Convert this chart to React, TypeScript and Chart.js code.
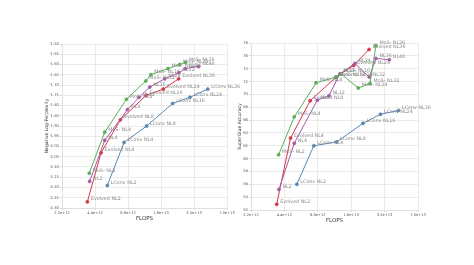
import React, { useEffect, useRef } from "react";
import { Chart, registerables } from "chart.js";
Chart.register(...registerables);

// ---- shared axis ticks ----
const xTickValues = [2.2e12, 4.4e12, 8.8e12, 1.76e13, 3.52e13, 7.04e13];

// ---- MoS series ----
const mosLabels = ["MoS- NL2", "MoS- NL4", "MoS- NL8", "MoS- NL12", "MoS- NL16", "MoS- NL24", "MoS- NL32", "MoS- NL36"];
const mosFlops = [3.9e12, 5.4e12, 8.5e12, 1.28e13, 1.42e13, 2.04e13, 2.6e13, 2.94e13];
const mosPpl = [-2.13, -1.93, -1.77, -1.68, -1.65, -1.62, -1.6, -1.59];
const mosAcc = [60.6, 66.5, 71.8, 72.7, 73.2, 71.0, 71.7, 77.6];

// ---- Evolved series ----
const evoLabels = ["Evolved NL2", "Evolved NL4", "Evolved NL8", "Evolved NL16", "Evolved NL24", "Evolved NL36"];
const evoFlops = [3.75e12, 5.0e12, 7.5e12, 1.29e13, 1.85e13, 2.55e13];
const evoPpl = [-2.27, -2.03, -1.87, -1.75, -1.72, -1.67];
const evoAcc = [52.9, 63.2, 69.0, 72.7, 74.5, 77.0];

// ---- vanilla NL series ----
const nlLabels = ["NL2", "NL4", "NL8", "NL12", "NL16", "NL24", "NL32", "NL36", "NL48"];
const nlFlops = [3.93e12, 5.4e12, 8.7e12, 1.11e13, 1.39e13, 1.9e13, 2.56e13, 2.94e13, 3.88e13];
const nlPpl = [-2.17, -1.97, -1.82, -1.76, -1.71, -1.67, -1.64, -1.62, -1.61];
const nlAcc = [55.2, 62.4, 69.1, 69.8, 73.2, 74.8, 72.7, 75.6, 75.4];

// ---- LConv series ----
const lconvLabels = ["LConv NL2", "LConv NL4", "LConv NL8", "LConv NL16", "LConv NL24", "LConv NL36"];
const lconvFlops = [5.7e12, 8.1e12, 1.3e13, 2.25e13, 3.23e13, 4.7e13];
const lconvPpl = [-2.19, -1.98, -1.9, -1.79, -1.76, -1.72];
const lconvAcc = [56.0, 62.0, 62.6, 65.5, 66.9, 67.5];

const FONT = "'DejaVu Sans', sans-serif";
const COLORS = { mos: "#5aae5a", evo: "#d8344a", nl: "#a45ba4", lconv: "#5b86b3" };

function ds(labels: string[], xs: number[], ys: number[], color: string) {
  return {
    data: xs.map((x, i) => ({ x, y: ys[i] })),
    pointLabels: labels,
    borderColor: color,
    backgroundColor: color,
    pointBackgroundColor: color,
    pointBorderColor: color,
    borderWidth: 1,
    pointRadius: 1.5,
    pointBorderWidth: 0.8,
    tension: 0,
  } as any;
}

const labelPlugin = {
  id: "pointLabels",
  afterDatasetsDraw(chart: any) {
    const ctx = chart.ctx;
    ctx.save();
    ctx.font = `4.8px ${FONT}`;
    ctx.fillStyle = "#8a8a8a";
    ctx.textBaseline = "alphabetic";
    ctx.textAlign = "left";
    chart.data.datasets.forEach((d: any, di: number) => {
      const meta = chart.getDatasetMeta(di);
      meta.data.forEach((pt: any, i: number) => {
        ctx.fillText(d.pointLabels[i], pt.x + 3.5, pt.y - 1.5);
      });
    });
    ctx.restore();
  },
};

function makeConfig(datasets: any[], yTitle: string, yMin: number, yMax: number, yStep: number, yDigits: number, padding: any, yWidth: number) {
  const grid = { color: "#e6e6e6", lineWidth: 0.8, tickLength: 2, tickColor: "#cccccc" };
  return {
    type: "line",
    data: { datasets },
    options: {
      animation: false,
      responsive: false,
      devicePixelRatio: 1,
      layout: { padding },
      plugins: { legend: { display: false }, tooltip: { enabled: false } },
      scales: {
        x: {
          type: "logarithmic",
          min: xTickValues[0],
          max: xTickValues[xTickValues.length - 1],
          afterBuildTicks: (s: any) => {
            s.ticks = xTickValues.map((v) => ({ value: v }));
          },
          afterFit: (s: any) => {
            s.height = 14;
          },
          ticks: {
            autoSkip: false,
            maxRotation: 0,
            minRotation: 0,
            padding: 1,
            color: "#555555",
            font: { size: 3.6, family: FONT },
            callback: (v: any) => Number(v).toExponential(1),
          },
          grid,
          border: { color: "#dddddd", width: 0.8 },
          title: { display: true, text: "FLOPS", color: "#333333", font: { size: 5.5, family: FONT }, padding: { top: 0, bottom: 0 } },
        },
        y: {
          type: "linear",
          min: yMin,
          max: yMax,
          afterFit: (s: any) => {
            s.width = yWidth;
          },
          ticks: {
            stepSize: yStep,
            autoSkip: false,
            padding: 1,
            color: "#555555",
            font: { size: 3.8, family: FONT },
            callback: (v: any) => Number(v).toFixed(yDigits),
          },
          grid,
          border: { color: "#dddddd", width: 0.8 },
          title: { display: true, text: yTitle, color: "#333333", font: { size: 4.6, family: FONT }, padding: { top: 0, bottom: 0 } },
        },
      },
    },
    plugins: [labelPlugin],
  } as any;
}

function ChartCanvas({ config, left, width }: { config: any; left: number; width: number }) {
  const ref = useRef<HTMLCanvasElement>(null);
  useEffect(() => {
    const c = new Chart(ref.current as HTMLCanvasElement, config);
    return () => c.destroy();
  }, []);
  return (
    <canvas
      ref={ref}
      width={width}
      height={265}
      style={{ position: "absolute", left, top: 0, width, height: 265 }}
    />
  );
}

export default function App() {
  const leftConfig = makeConfig(
    [
      ds(mosLabels, mosFlops, mosPpl, COLORS.mos),
      ds(nlLabels, nlFlops, nlPpl, COLORS.nl),
      ds(evoLabels, evoFlops, evoPpl, COLORS.evo),
      ds(lconvLabels, lconvFlops, lconvPpl, COLORS.lconv),
    ],
    "Negative Log-Perplexity",
    -2.3,
    -1.5,
    0.05,
    2,
    { left: 44, top: 44, right: 23, bottom: 43 },
    18
  );
  const rightConfig = makeConfig(
    [
      ds(mosLabels, mosFlops, mosAcc, COLORS.mos),
      ds(nlLabels, nlFlops, nlAcc, COLORS.nl),
      ds(evoLabels, evoFlops, evoAcc, COLORS.evo),
      ds(lconvLabels, lconvFlops, lconvAcc, COLORS.lconv),
    ],
    "SuperGlue Accuracy",
    52,
    78,
    2,
    0,
    { left: 7, top: 43, right: 56, bottom: 41 },
    14
  );
  return (
    <div style={{ position: "absolute", left: 0, top: 0, width: 474, height: 265, background: "#ffffff" }}>
      <ChartCanvas config={leftConfig} left={0} width={250} />
      <ChartCanvas config={rightConfig} left={230} width={244} />
    </div>
  );
}
